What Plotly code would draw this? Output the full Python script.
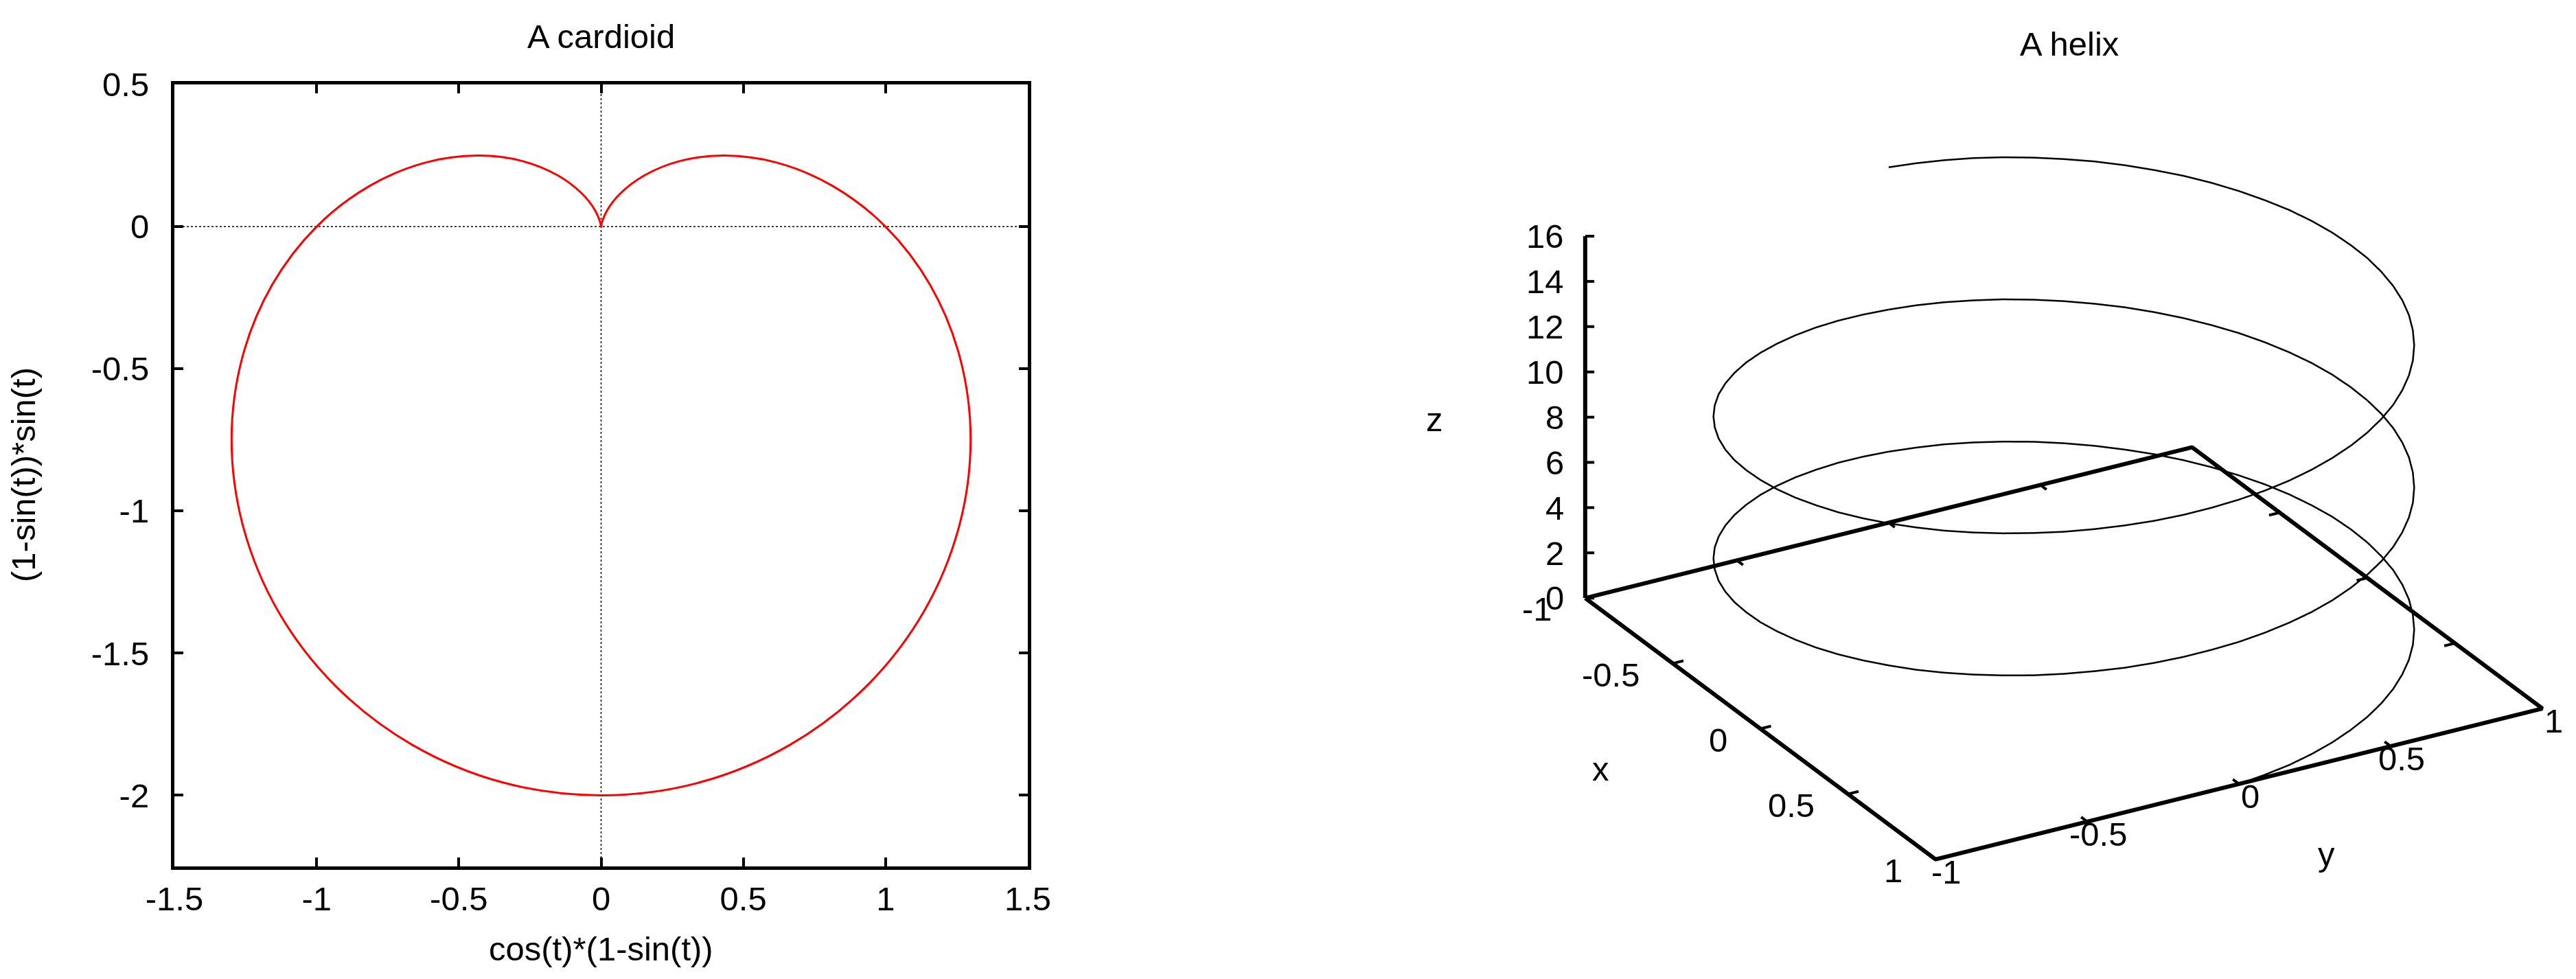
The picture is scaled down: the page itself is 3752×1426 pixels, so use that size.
import plotly.graph_objects as go

# cardioid: x = cos(t)*(1-sin(t)), y = (1-sin(t))*sin(t), read along the curve from the cusp
card_x = [0, -0.003, -0.021, -0.067, -0.150, -0.274, -0.433, -0.618, -0.814, -1.000,
          -1.156, -1.261, -1.299, -1.258, -1.135, -0.933, -0.663, -0.345, 0,
          0.345, 0.663, 0.933, 1.135, 1.258, 1.299, 1.261, 1.156, 1.000,
          0.814, 0.618, 0.433, 0.274, 0.150, 0.067, 0.021, 0.003, 0]
card_y = [0, 0.015, 0.057, 0.116, 0.179, 0.230, 0.250, 0.225, 0.143, 0.000,
          -0.204, -0.459, -0.750, -1.056, -1.353, -1.616, -1.823, -1.955, -2.000,
          -1.955, -1.823, -1.616, -1.353, -1.056, -0.750, -0.459, -0.204, 0.000,
          0.143, 0.225, 0.250, 0.230, 0.179, 0.116, 0.057, 0.015, 0]

# helix: one turn of the ring (5 degree steps), repeated 2.5 times while climbing
ring_x = [1, .996, .985, .966, .940, .906, .866, .819, .766, .707, .643, .574, .5, .423, .342, .259, .174, .087,
          0, -.087, -.174, -.259, -.342, -.423, -.5, -.574, -.643, -.707, -.766, -.819, -.866, -.906, -.940, -.966, -.985, -.996,
          -1, -.996, -.985, -.966, -.940, -.906, -.866, -.819, -.766, -.707, -.643, -.574, -.5, -.423, -.342, -.259, -.174, -.087,
          0, .087, .174, .259, .342, .423, .5, .574, .643, .707, .766, .819, .866, .906, .940, .966, .985, .996]
ring_y = [0, .087, .174, .259, .342, .423, .5, .574, .643, .707, .766, .819, .866, .906, .940, .966, .985, .996,
          1, .996, .985, .966, .940, .906, .866, .819, .766, .707, .643, .574, .5, .423, .342, .259, .174, .087,
          0, -.087, -.174, -.259, -.342, -.423, -.5, -.574, -.643, -.707, -.766, -.819, -.866, -.906, -.940, -.966, -.985, -.996,
          -1, -.996, -.985, -.966, -.940, -.906, -.866, -.819, -.766, -.707, -.643, -.574, -.5, -.423, -.342, -.259, -.174, -.087]
helix_x = ring_x * 2 + ring_x[:37]
helix_y = ring_y * 2 + ring_y[:37]
helix_z = [0.00, 0.09, 0.17, 0.26, 0.35, 0.44, 0.52, 0.61, 0.70, 0.79, 0.87, 0.96, 1.05, 1.13, 1.22, 1.31, 1.40, 1.48,
           1.57, 1.66, 1.75, 1.83, 1.92, 2.01, 2.09, 2.18, 2.27, 2.36, 2.44, 2.53, 2.62, 2.71, 2.79, 2.88, 2.97, 3.05,
           3.14, 3.23, 3.32, 3.40, 3.49, 3.58, 3.67, 3.75, 3.84, 3.93, 4.01, 4.10, 4.19, 4.28, 4.36, 4.45, 4.54, 4.63,
           4.71, 4.80, 4.89, 4.97, 5.06, 5.15, 5.24, 5.32, 5.41, 5.50, 5.59, 5.67, 5.76, 5.85, 5.93, 6.02, 6.11, 6.20,
           6.28, 6.37, 6.46, 6.54, 6.63, 6.72, 6.81, 6.89, 6.98, 7.07, 7.16, 7.24, 7.33, 7.42, 7.50, 7.59, 7.68, 7.77,
           7.85, 7.94, 8.03, 8.12, 8.20, 8.29, 8.38, 8.46, 8.55, 8.64, 8.73, 8.81, 8.90, 8.99, 9.08, 9.16, 9.25, 9.34,
           9.42, 9.51, 9.60, 9.69, 9.77, 9.86, 9.95, 10.04, 10.12, 10.21, 10.30, 10.38, 10.47, 10.56, 10.65, 10.73,
           10.82, 10.91, 11.00, 11.08, 11.17, 11.26, 11.34, 11.43, 11.52, 11.61, 11.69, 11.78, 11.87, 11.96, 12.04,
           12.13, 12.22, 12.30, 12.39, 12.48, 12.57, 12.65, 12.74, 12.83, 12.92, 13.00, 13.09, 13.18, 13.26, 13.35,
           13.44, 13.53, 13.61, 13.70, 13.79, 13.88, 13.96, 14.05, 14.14, 14.22, 14.31, 14.40, 14.49, 14.57, 14.66,
           14.75, 14.84, 14.92, 15.01, 15.10, 15.18, 15.27, 15.36, 15.45, 15.53, 15.62, 15.71]

x2_ticks = [-1.5, -1, -0.5, 0, 0.5, 1, 1.5]
y2_ticks = [-2, -1.5, -1, -0.5, 0, 0.5]
xy3_ticks = [-1, -0.5, 0, 0.5, 1]
z3_ticks = [0, 2, 4, 6, 8, 10, 12, 14, 16]
x2_range = [-1.5, 1.5]
y2_range = [-2.25, 0.5]
x3_range = [-1, 1]
y3_range = [-1, 1]
z3_range = [0, 16]

FONT = "Liberation Sans, Arial, sans-serif"
W, H = 3752, 1426
TL = 0.035      # 3d tick length, in x/y units
TLZ = 0.026


def lbl(v):
    return ('%g' % v)


fig = go.Figure()

fig.add_trace(go.Scatter(x=card_x, y=card_y, mode='lines',
                         line=dict(color='#ff0000', width=3, shape='spline', smoothing=1.0),
                         hoverinfo='skip', showlegend=False))

x0, x1 = x3_range
y0, y1 = y3_range
z0, z1 = z3_range

# gnuplot style frame: base square plus the z axis at the left corner, built from the ranges
frame_x = [x0, x1, x1, x0, x0, None, x0, x0]
frame_y = [y0, y0, y1, y1, y0, None, y0, y0]
frame_z = [z0, z0, z0, z0, z0, None, z0, z1]
fig.add_trace(go.Scatter3d(x=frame_x, y=frame_y, z=frame_z, mode='lines',
                           line=dict(color='black', width=12), hoverinfo='skip', showlegend=False))

# tick marks on all four base edges and on the z axis
tx, ty, tz = [], [], []
for v in xy3_ticks:
    tx += [v, v, None, v, v, None]
    ty += [y0, y0 + TL, None, y1, y1 - TL, None]
    tz += [z0, z0, None, z0, z0, None]
    tx += [x1, x1 - TL, None, x0, x0 + TL, None]
    ty += [v, v, None, v, v, None]
    tz += [z0, z0, None, z0, z0, None]
for v in z3_ticks:
    tx += [x0, x0 + 0.5 * TLZ, None]
    ty += [y0, y0 + 0.866 * TLZ, None]
    tz += [v, v, None]
fig.add_trace(go.Scatter3d(x=tx, y=ty, z=tz, mode='lines',
                           line=dict(color='black', width=8), hoverinfo='skip', showlegend=False))

fig.add_trace(go.Scatter3d(x=helix_x, y=helix_y, z=helix_z, mode='lines',
                           line=dict(color='black', width=5), hoverinfo='skip', showlegend=False))

ax2 = dict(showgrid=False, zeroline=False, showline=True, linecolor='black', linewidth=5,
           mirror='allticks', ticks='inside', ticklen=13, tickwidth=4, tickcolor='black',
           tickfont=dict(family=FONT, size=49, color='black'), automargin=False)

ax3 = dict(showbackground=False, showgrid=False, zeroline=False, showspikes=False,
           showline=False, ticks='', showticklabels=False, title=dict(text=''))

# 3d tick labels and axis titles as scene annotations (gnuplot places them flat on screen)
scene_ann = []
for v in xy3_ticks:
    scene_ann.append(dict(x=v, y=y0, z=z0, text=lbl(v), xanchor='right', yanchor='middle',
                          xshift=-46, yshift=-16))
    scene_ann.append(dict(x=x1, y=v, z=z0, text=lbl(v), xanchor='center', yanchor='middle',
                          xshift=16, yshift=-18))
for v in z3_ticks:
    scene_ann.append(dict(x=x0, y=y0, z=v, text=lbl(v), xanchor='right', yanchor='middle',
                          xshift=-29, yshift=0))
scene_ann.append(dict(x=(x0 + x1) / 2, y=y0, z=z0, text='x', xanchor='center', yanchor='middle',
                      xshift=-232, yshift=-58))
scene_ann.append(dict(x=x1, y=(y0 + y1) / 2, z=z0, text='y', xanchor='center', yanchor='middle',
                      xshift=127, yshift=-102))
scene_ann.append(dict(x=x0, y=y0, z=(z0 + z1) / 2, text='z', xanchor='center', yanchor='middle',
                      xshift=-219, yshift=-3))
for a in scene_ann:
    a['showarrow'] = False
    a['font'] = dict(family=FONT, size=49, color='black')

fig.update_layout(
    template='none',
    width=W, height=H,
    margin=dict(l=0, r=0, t=0, b=0),
    paper_bgcolor='white', plot_bgcolor='white',
    font=dict(family=FONT, size=49, color='black'),
    showlegend=False,
    xaxis=dict(domain=[246 / W, 1489 / W], range=x2_range, tickvals=x2_ticks,
               ticktext=[lbl(v) for v in x2_ticks], anchor='y', ticklabelstandoff=0, **ax2),
    yaxis=dict(domain=[1 - 1254 / H, 1 - 115 / H], range=y2_range, tickvals=y2_ticks,
               ticktext=[lbl(v) for v in y2_ticks], anchor='x', ticklabelstandoff=22, **ax2),
    scene=dict(
        domain=dict(x=[0.598, 1.0], y=[0.046, 1.0]),
        xaxis=dict(range=x3_range, **ax3),
        yaxis=dict(range=y3_range, **ax3),
        zaxis=dict(range=z3_range, **ax3),
        aspectmode='manual', aspectratio=dict(x=1.501, y=1.501, z=0.859),
        camera=dict(projection=dict(type='orthographic'),
                    eye=dict(x=0.7817 * 1.32, y=-0.4513 * 1.32, z=0.4305 * 1.32),
                    up=dict(x=0, y=0, z=1), center=dict(x=0, y=0, z=0)),
        bgcolor='white',
        annotations=scene_ann,
    ),
    shapes=[
        dict(type='line', xref='x', yref='y', x0=x2_range[0], x1=x2_range[1], y0=0, y1=0,
             line=dict(color='black', width=1.5, dash='dot'), layer='below'),
        dict(type='line', xref='x', yref='y', x0=0, x1=0, y0=y2_range[0], y1=y2_range[1],
             line=dict(color='black', width=1.5, dash='dot'), layer='below'),
    ],
    annotations=[
        dict(text='A cardioid', x=867 / W, y=1 - 45 / H, xref='paper', yref='paper',
             showarrow=False, xanchor='center', yanchor='middle'),
        dict(text='cos(t)*(1-sin(t))', x=867 / W, y=1 - 1374 / H, xref='paper', yref='paper',
             showarrow=False, xanchor='center', yanchor='middle'),
        dict(text='(1-sin(t))*sin(t)', x=26 / W, y=1 - 684 / H, xref='paper', yref='paper',
             showarrow=False, xanchor='center', yanchor='middle', textangle=-90),
        dict(text='A helix', x=3006 / W, y=1 - 56 / H, xref='paper', yref='paper',
             showarrow=False, xanchor='center', yanchor='middle'),
    ],
)

fig.write_html("out.html")
